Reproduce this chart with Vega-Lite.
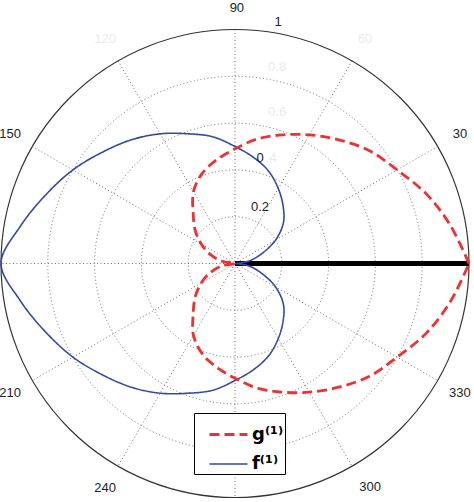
{
  "$schema": "https://vega.github.io/schema/vega-lite/v6.json",
  "width": 474,
  "height": 502,
  "autosize": {"type": "none"},
  "padding": 0,
  "background": "white",
  "datasets": {
    "rings": [{"r": 0.2}, {"r": 0.4}, {"r": 0.6}, {"r": 0.8}],
    "outer": [{"r": 1}],
    "spokes": [
      {"x": 1, "y": 0, "x2": -1, "y2": 0},
      {"x": 0.866, "y": 0.5, "x2": -0.866, "y2": -0.5},
      {"x": 0.5, "y": 0.866, "x2": -0.5, "y2": -0.866},
      {"x": 0, "y": 1, "x2": 0, "y2": -1},
      {"x": -0.5, "y": 0.866, "x2": 0.5, "y2": -0.866},
      {"x": -0.866, "y": 0.5, "x2": 0.866, "y2": -0.5}
    ],
    "needle": [{"x": 0, "y": 0, "x2": 1, "y2": 0}],
    "curves": [
      {"series": "f⁽¹⁾", "i": 0, "x": 0, "y": 0},
      {"series": "f⁽¹⁾", "i": 1, "x": 0.0591, "y": 0.0104},
      {"series": "f⁽¹⁾", "i": 2, "x": 0.1128, "y": 0.041},
      {"series": "f⁽¹⁾", "i": 3, "x": 0.1732, "y": 0.1},
      {"series": "f⁽¹⁾", "i": 4, "x": 0.2068, "y": 0.1736},
      {"series": "f⁽¹⁾", "i": 5, "x": 0.2057, "y": 0.2451},
      {"series": "f⁽¹⁾", "i": 6, "x": 0.185, "y": 0.3204},
      {"series": "f⁽¹⁾", "i": 7, "x": 0.1436, "y": 0.3947},
      {"series": "f⁽¹⁾", "i": 8, "x": 0.0799, "y": 0.453},
      {"series": "f⁽¹⁾", "i": 9, "x": 0, "y": 0.5},
      {"series": "f⁽¹⁾", "i": 10, "x": -0.0955, "y": 0.5416},
      {"series": "f⁽¹⁾", "i": 11, "x": -0.2018, "y": 0.5544},
      {"series": "f⁽¹⁾", "i": 12, "x": -0.32, "y": 0.5542},
      {"series": "f⁽¹⁾", "i": 13, "x": -0.4435, "y": 0.5285},
      {"series": "f⁽¹⁾", "i": 14, "x": -0.5668, "y": 0.4757},
      {"series": "f⁽¹⁾", "i": 15, "x": -0.6928, "y": 0.4},
      {"series": "f⁽¹⁾", "i": 16, "x": -0.8081, "y": 0.2941},
      {"series": "f⁽¹⁾", "i": 17, "x": -0.9159, "y": 0.1614},
      {"series": "f⁽¹⁾", "i": 18, "x": -1, "y": 0},
      {"series": "f⁽¹⁾", "i": 19, "x": -0.9159, "y": -0.1614},
      {"series": "f⁽¹⁾", "i": 20, "x": -0.8081, "y": -0.2941},
      {"series": "f⁽¹⁾", "i": 21, "x": -0.6928, "y": -0.4},
      {"series": "f⁽¹⁾", "i": 22, "x": -0.5668, "y": -0.4757},
      {"series": "f⁽¹⁾", "i": 23, "x": -0.4435, "y": -0.5285},
      {"series": "f⁽¹⁾", "i": 24, "x": -0.32, "y": -0.5542},
      {"series": "f⁽¹⁾", "i": 25, "x": -0.2018, "y": -0.5544},
      {"series": "f⁽¹⁾", "i": 26, "x": -0.0955, "y": -0.5416},
      {"series": "f⁽¹⁾", "i": 27, "x": 0, "y": -0.5},
      {"series": "f⁽¹⁾", "i": 28, "x": 0.0799, "y": -0.453},
      {"series": "f⁽¹⁾", "i": 29, "x": 0.1436, "y": -0.3947},
      {"series": "f⁽¹⁾", "i": 30, "x": 0.185, "y": -0.3204},
      {"series": "f⁽¹⁾", "i": 31, "x": 0.2057, "y": -0.2451},
      {"series": "f⁽¹⁾", "i": 32, "x": 0.2068, "y": -0.1736},
      {"series": "f⁽¹⁾", "i": 33, "x": 0.1732, "y": -0.1},
      {"series": "f⁽¹⁾", "i": 34, "x": 0.1128, "y": -0.041},
      {"series": "f⁽¹⁾", "i": 35, "x": 0.0591, "y": -0.0104},
      {"series": "f⁽¹⁾", "i": 36, "x": 0, "y": 0},
      {"series": "g⁽¹⁾", "i": 0, "x": 1, "y": 0},
      {"series": "g⁽¹⁾", "i": 1, "x": 0.9208, "y": 0.1623},
      {"series": "g⁽¹⁾", "i": 2, "x": 0.8175, "y": 0.2975},
      {"series": "g⁽¹⁾", "i": 3, "x": 0.6928, "y": 0.4},
      {"series": "g⁽¹⁾", "i": 4, "x": 0.5745, "y": 0.4821},
      {"series": "g⁽¹⁾", "i": 5, "x": 0.4435, "y": 0.5285},
      {"series": "g⁽¹⁾", "i": 6, "x": 0.3175, "y": 0.5499},
      {"series": "g⁽¹⁾", "i": 7, "x": 0.2001, "y": 0.5497},
      {"series": "g⁽¹⁾", "i": 8, "x": 0.0937, "y": 0.5318},
      {"series": "g⁽¹⁾", "i": 9, "x": 0, "y": 0.49},
      {"series": "g⁽¹⁾", "i": 10, "x": -0.0781, "y": 0.4432},
      {"series": "g⁽¹⁾", "i": 11, "x": -0.1402, "y": 0.3853},
      {"series": "g⁽¹⁾", "i": 12, "x": -0.1775, "y": 0.3074},
      {"series": "g⁽¹⁾", "i": 13, "x": -0.1786, "y": 0.2128},
      {"series": "g⁽¹⁾", "i": 14, "x": -0.1702, "y": 0.1428},
      {"series": "g⁽¹⁾", "i": 15, "x": -0.1443, "y": 0.0833},
      {"series": "g⁽¹⁾", "i": 16, "x": -0.1044, "y": 0.038},
      {"series": "g⁽¹⁾", "i": 17, "x": -0.0547, "y": 0.0096},
      {"series": "g⁽¹⁾", "i": 18, "x": 0, "y": 0},
      {"series": "g⁽¹⁾", "i": 19, "x": -0.0547, "y": -0.0096},
      {"series": "g⁽¹⁾", "i": 20, "x": -0.1044, "y": -0.038},
      {"series": "g⁽¹⁾", "i": 21, "x": -0.1443, "y": -0.0833},
      {"series": "g⁽¹⁾", "i": 22, "x": -0.1702, "y": -0.1428},
      {"series": "g⁽¹⁾", "i": 23, "x": -0.1786, "y": -0.2128},
      {"series": "g⁽¹⁾", "i": 24, "x": -0.1775, "y": -0.3074},
      {"series": "g⁽¹⁾", "i": 25, "x": -0.1402, "y": -0.3853},
      {"series": "g⁽¹⁾", "i": 26, "x": -0.0781, "y": -0.4432},
      {"series": "g⁽¹⁾", "i": 27, "x": 0, "y": -0.49},
      {"series": "g⁽¹⁾", "i": 28, "x": 0.0937, "y": -0.5318},
      {"series": "g⁽¹⁾", "i": 29, "x": 0.2001, "y": -0.5497},
      {"series": "g⁽¹⁾", "i": 30, "x": 0.3175, "y": -0.5499},
      {"series": "g⁽¹⁾", "i": 31, "x": 0.4435, "y": -0.5285},
      {"series": "g⁽¹⁾", "i": 32, "x": 0.5745, "y": -0.4821},
      {"series": "g⁽¹⁾", "i": 33, "x": 0.6928, "y": -0.4},
      {"series": "g⁽¹⁾", "i": 34, "x": 0.8175, "y": -0.2975},
      {"series": "g⁽¹⁾", "i": 35, "x": 0.9208, "y": -0.1623},
      {"series": "g⁽¹⁾", "i": 36, "x": 1, "y": 0}
    ],
    "labels": [
      {"text": "30", "x": 0.9613, "y": 0.555, "tone": "dark"},
      {"text": "60", "x": 0.555, "y": 0.9613, "tone": "faint"},
      {"text": "90", "x": 0.008, "y": 1.09, "tone": "dark"},
      {"text": "120", "x": -0.555, "y": 0.9613, "tone": "faint"},
      {"text": "150", "x": -0.9613, "y": 0.555, "tone": "dark"},
      {"text": "210", "x": -0.9613, "y": -0.555, "tone": "dark"},
      {"text": "240", "x": -0.555, "y": -0.9613, "tone": "dark"},
      {"text": "300", "x": 0.577, "y": -0.955, "tone": "dark"},
      {"text": "330", "x": 0.9613, "y": -0.555, "tone": "dark"},
      {"text": "1", "x": 0.184, "y": 1.032, "tone": "dark"},
      {"text": "0.8", "x": 0.18, "y": 0.84, "tone": "faint"},
      {"text": "0.6", "x": 0.18, "y": 0.647, "tone": "faint"},
      {"text": "0", "x": 0.107, "y": 0.451, "tone": "dark"},
      {"text": ".4", "x": 0.155, "y": 0.451, "tone": "faint"},
      {"text": "0.2", "x": 0.107, "y": 0.241, "tone": "dark"}
    ]
  },
  "encoding": {
    "x": {"type": "quantitative", "scale": {"domain": [-1.0043, 1.0214], "nice": false, "zero": false}, "axis": null},
    "y": {"type": "quantitative", "scale": {"domain": [-1.0192, 1.1261], "nice": false, "zero": false}, "axis": null}
  },
  "layer": [
    {
      "data": {"name": "rings"},
      "mark": {"type": "arc", "theta": 0, "theta2": 6.2832, "fill": null, "filled": false, "stroke": "#6e6e6e", "strokeWidth": 1, "strokeDash": [1, 2.5]},
      "encoding": {
        "x": {"datum": 0, "type": "quantitative"},
        "y": {"datum": 0, "type": "quantitative"},
        "radius": {"field": "r", "type": "quantitative", "stack": null, "scale": {"type": "linear", "domain": [0, 1], "range": [0, 234]}}
      }
    },
    {
      "data": {"name": "outer"},
      "mark": {"type": "arc", "theta": 0, "theta2": 6.2832, "fill": null, "filled": false, "stroke": "#333333", "strokeWidth": 1.2},
      "encoding": {
        "x": {"datum": 0, "type": "quantitative"},
        "y": {"datum": 0, "type": "quantitative"},
        "radius": {"field": "r", "type": "quantitative", "stack": null, "scale": {"type": "linear", "domain": [0, 1], "range": [0, 234]}}
      }
    },
    {
      "data": {"name": "spokes"},
      "mark": {"type": "rule", "stroke": "#6e6e6e", "strokeWidth": 1, "strokeDash": [1, 2.5]},
      "encoding": {
        "x": {"field": "x", "type": "quantitative"},
        "y": {"field": "y", "type": "quantitative"},
        "x2": {"field": "x2"},
        "y2": {"field": "y2"}
      }
    },
    {
      "data": {"name": "needle"},
      "mark": {"type": "rule", "stroke": "black", "strokeWidth": 5},
      "encoding": {
        "x": {"field": "x", "type": "quantitative"},
        "y": {"field": "y", "type": "quantitative"},
        "x2": {"field": "x2"},
        "y2": {"field": "y2"}
      }
    },
    {
      "data": {"name": "curves"},
      "mark": {"type": "line", "interpolate": "catmull-rom"},
      "encoding": {
        "x": {"field": "x", "type": "quantitative"},
        "y": {"field": "y", "type": "quantitative"},
        "order": {"field": "i", "type": "quantitative"},
        "color": {
          "field": "series", "type": "nominal",
          "scale": {"domain": ["g⁽¹⁾", "f⁽¹⁾"], "range": ["#f03030", "#3348a8"]},
          "legend": {
            "title": null, "orient": "none", "legendX": 194, "legendY": 413,
            "direction": "vertical", "symbolType": "stroke", "symbolSize": 1444,
            "symbolStrokeWidth": 2.5, "symbolOffset": 13,
            "labelFontSize": 18, "labelFont": "DejaVu Sans",
            "labelFontWeight": "bold", "labelColor": "black", "labelOffset": 3,
            "padding": 1, "rowPadding": -8,
            "strokeColor": "black", "fillColor": "white"
          }
        },
        "strokeDash": {
          "field": "series", "type": "nominal",
          "scale": {"domain": ["g⁽¹⁾", "f⁽¹⁾"], "range": [[10, 5], [1, 0]]},
          "legend": null
        },
        "strokeWidth": {
          "field": "series", "type": "nominal",
          "scale": {"domain": ["g⁽¹⁾", "f⁽¹⁾"], "range": [2.8, 1.6]},
          "legend": null
        }
      }
    },
    {
      "data": {"name": "labels"},
      "transform": [{"filter": "datum.tone == 'dark'"}],
      "mark": {"type": "text", "font": "Liberation Sans", "fontSize": 13, "color": "#222222", "align": "center", "baseline": "middle"},
      "encoding": {
        "x": {"field": "x", "type": "quantitative"},
        "y": {"field": "y", "type": "quantitative"},
        "text": {"field": "text"}
      }
    },
    {
      "data": {"name": "labels"},
      "transform": [{"filter": "datum.tone == 'faint'"}],
      "mark": {"type": "text", "font": "Liberation Sans", "fontSize": 13, "color": "#ebebeb", "align": "center", "baseline": "middle"},
      "encoding": {
        "x": {"field": "x", "type": "quantitative"},
        "y": {"field": "y", "type": "quantitative"},
        "text": {"field": "text"}
      }
    }
  ],
  "config": {"view": {"stroke": null}}
}
